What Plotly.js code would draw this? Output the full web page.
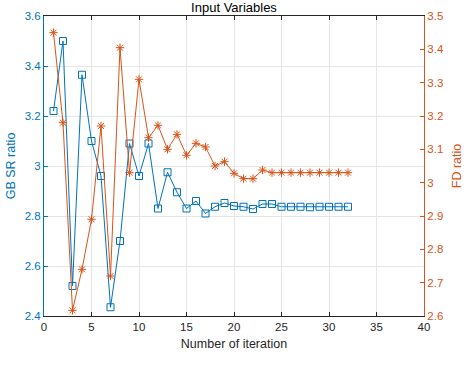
<!DOCTYPE html>
<html>
<head>
<meta charset="utf-8">
<script src="https://cdn.plot.ly/plotly-3.0.1.min.js"></script>
<style>html,body{margin:0;padding:0;background:#fff;}#chart{width:474px;height:368px;}</style>
</head>
<body>
<div id="chart"></div>
<script>
const iterations = [1,2,3,4,5,6,7,8,9,10,11,12,13,14,15,16,17,18,19,20,21,22,23,24,25,26,27,28,29,30,31,32];
const gbSrRatio = [3.22,3.50,2.52,3.365,3.10,2.96,2.435,2.70,3.09,2.96,3.09,2.83,2.975,2.895,2.83,2.86,2.81,2.837,2.852,2.84,2.837,2.828,2.848,2.848,2.837,2.837,2.837,2.835,2.837,2.837,2.837,2.837];
const fdRatio = [3.45,3.18,2.617,2.74,2.89,3.17,2.72,3.405,3.03,3.31,3.135,3.172,3.10,3.145,3.082,3.118,3.107,3.05,3.063,3.028,3.012,3.012,3.038,3.03,3.03,3.03,3.03,3.03,3.03,3.03,3.03,3.03];

const blue = '#0072BD', orange = '#D95319', dark = '#262626';
const fam = 'Liberation Sans, Arial, sans-serif';

const traces = [
  {x: iterations, y: gbSrRatio, type: 'scatter', mode: 'lines+markers', name: 'GB SR ratio',
   line: {color: blue, width: 1}, marker: {symbol: 'square-open', size: 7, color: blue, line: {width: 1, color: blue}}, yaxis: 'y'},
  {x: iterations, y: fdRatio, type: 'scatter', mode: 'lines+markers', name: 'FD ratio',
   line: {color: orange, width: 1}, marker: {symbol: 'asterisk-open', size: 7, color: orange, line: {width: 1, color: orange}}, yaxis: 'y2'}
];

const layout = {
  width: 474, height: 368,
  margin: {l: 44, r: 50, t: 16, b: 52},
  paper_bgcolor: '#fff', plot_bgcolor: '#fff',
  font: {family: fam, size: 11.5, color: dark},
  showlegend: false,
  title: {text: 'Input Variables', font: {family: fam, size: 13, color: '#000'}, x: 0.5, xref: 'paper', y: 1 - 7/368, yref: 'container', yanchor: 'middle'},
  xaxis: {range: [0, 40], dtick: 5, tick0: 0, ticks: 'inside', ticklen: 4, tickcolor: dark,
    showline: true, linecolor: dark, linewidth: 1, mirror: 'ticks', showgrid: true, gridcolor: '#e6e6e6', zeroline: false,
    tickfont: {family: fam, size: 11.5, color: dark},
    title: {text: 'Number of iteration', font: {family: fam, size: 12.5, color: dark}, standoff: 7}},
  yaxis: {range: [2.4, 3.6], dtick: 0.2, tick0: 2.4, ticks: 'inside', ticklen: 4, tickcolor: blue,
    showline: true, linecolor: blue, linewidth: 1, showgrid: true, gridcolor: '#e6e6e6', zeroline: false,
    tickfont: {family: fam, size: 11.5, color: blue},
    title: {text: 'GB SR ratio', font: {family: fam, size: 12.5, color: blue}, standoff: 6}},
  yaxis2: {range: [2.6, 3.5], dtick: 0.1, tick0: 2.6, ticks: 'inside', ticklen: 4, tickcolor: orange,
    overlaying: 'y', side: 'right', showline: true, linecolor: orange, linewidth: 1, showgrid: false, zeroline: false,
    tickfont: {family: fam, size: 11.5, color: orange},
    title: {text: 'FD ratio', font: {family: fam, size: 12.5, color: orange}, standoff: 9}}
};

Plotly.newPlot('chart', traces, layout, {displayModeBar: false, staticPlot: true});
</script>
</body>
</html>
